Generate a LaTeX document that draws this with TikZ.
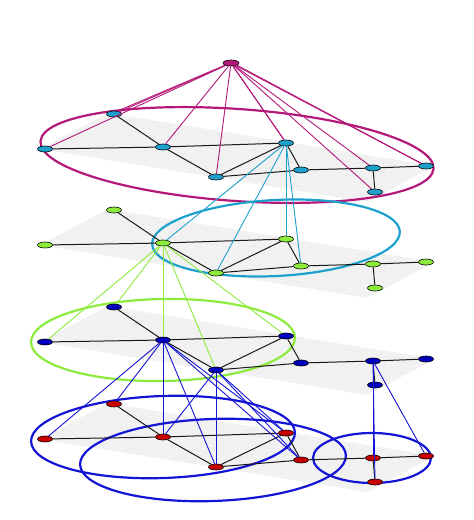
\documentclass[tikz,border=0pt]{standalone}
\usetikzlibrary{shapes.geometric}
\definecolor{magent}{RGB}{180,24,120}
\definecolor{skyl}{RGB}{30,160,205}
\definecolor{limel}{RGB}{140,235,60}
\definecolor{bluel}{RGB}{20,20,215}
\definecolor{redl}{RGB}{200,0,0}
\definecolor{bluen}{RGB}{0,0,190}
\tikzset{
  vtx/.style={ellipse, draw=black, line width=0.6pt, minimum width=15pt, minimum height=6pt, inner sep=0pt},
  edge/.style={black!90, line width=1pt},
  plane/.style={fill=black!5},
  ring/.style={line width=2.2pt},
  link/.style={line width=0.9pt}
}
\begin{document}
\begin{tikzpicture}[x=1pt,y=-1pt]
    \useasboundingbox (0,0) rectangle (474,520);
    % planes with faint grid
    \foreach \dy in {0,96,193,290} {
        \fill[plane] (40,{149+\dy}) -- (108,{113+\dy}) -- (435,{166+\dy}) -- (367,{202+\dy}) -- cycle;
        \foreach \t in {0.1,0.2,...,0.95}
            \draw[black!7, line width=0.3pt] ({40+68*\t},{149+\dy-36*\t}) -- ({367+68*\t},{202+\dy-36*\t});
        \foreach \t in {0.05,0.1,...,0.98}
            \draw[black!7, line width=0.3pt] ({40+327*\t},{149+\dy+53*\t}) -- ({108+327*\t},{113+\dy+53*\t});
    }
    % community rings
    \draw[ring, magent] (237,155) ellipse [x radius=197pt, y radius=46pt, rotate=-4];
    \draw[ring, skyl] (276,238) ellipse [x radius=124pt, y radius=38pt, rotate=3];
    \draw[ring, limel] (163,340) ellipse [x radius=132pt, y radius=41pt, rotate=1];
    \draw[ring, bluel] (163,437) ellipse [x radius=132pt, y radius=41pt, rotate=2];
    \draw[ring, bluel] (213,460) ellipse [x radius=133pt, y radius=41pt, rotate=2];
    \draw[ring, bluel] (372,458) ellipse [x radius=59pt, y radius=25pt];
    % nodes of the four layers
    \node[vtx, fill=magent, minimum width=16pt, minimum height=6pt] (top) at (231,63) {};
    \foreach \l/\dy/\col in {1/0/skyl,2/96/limel,3/193/bluen,4/290/redl} {
        \node[vtx, fill=\col] (a\l) at (45,{149+\dy}) {};
        \node[vtx, fill=\col] (b\l) at (114,{114+\dy}) {};
        \node[vtx, fill=\col] (c\l) at (163,{147+\dy}) {};
        \node[vtx, fill=\col] (d\l) at (216,{177+\dy}) {};
        \node[vtx, fill=\col] (e\l) at (286,{143+\dy}) {};
        \node[vtx, fill=\col] (f\l) at (301,{170+\dy}) {};
        \node[vtx, fill=\col] (g\l) at (373,{168+\dy}) {};
        \node[vtx, fill=\col] (h\l) at (426,{166+\dy}) {};
        \node[vtx, fill=\col] (i\l) at (375,{192+\dy}) {};
        \draw[edge] (a\l) -- (c\l) (b\l) -- (c\l) (c\l) -- (e\l) (c\l) -- (d\l)
            (d\l) -- (e\l) (d\l) -- (f\l) (e\l) -- (f\l) (f\l) -- (g\l)
            (g\l) -- (h\l) (g\l) -- (i\l);
    }
    % links between layers
    \foreach \n in {a1,b1,c1,d1,e1,g1,h1,i1}
        \draw[link, magent] (top) -- (\n);
    \draw[link, magent] (top.200) -- (b1.40);
    \draw[link, magent] (top.-60) -- (e1.120);
    \draw[link, magent] (top.-20) -- (h1.150);
    \foreach \n in {c2,d2,e2,f2}
        \draw[link, skyl] (e1) -- (\n);
    \foreach \n in {a3,b3,c3,d3,e3}
        \draw[link, limel] (c2) -- (\n);
    \foreach \n in {a4,b4,c4,d4,e4,f4}
        \draw[link, bluel] (c3) -- (\n);
    \foreach \n in {c4,d4,e4,f4}
        \draw[link, bluel] (d3) -- (\n);
    \foreach \n in {g4,h4,i4}
        \draw[link, bluel] (g3) -- (\n);
\end{tikzpicture}
\end{document}
